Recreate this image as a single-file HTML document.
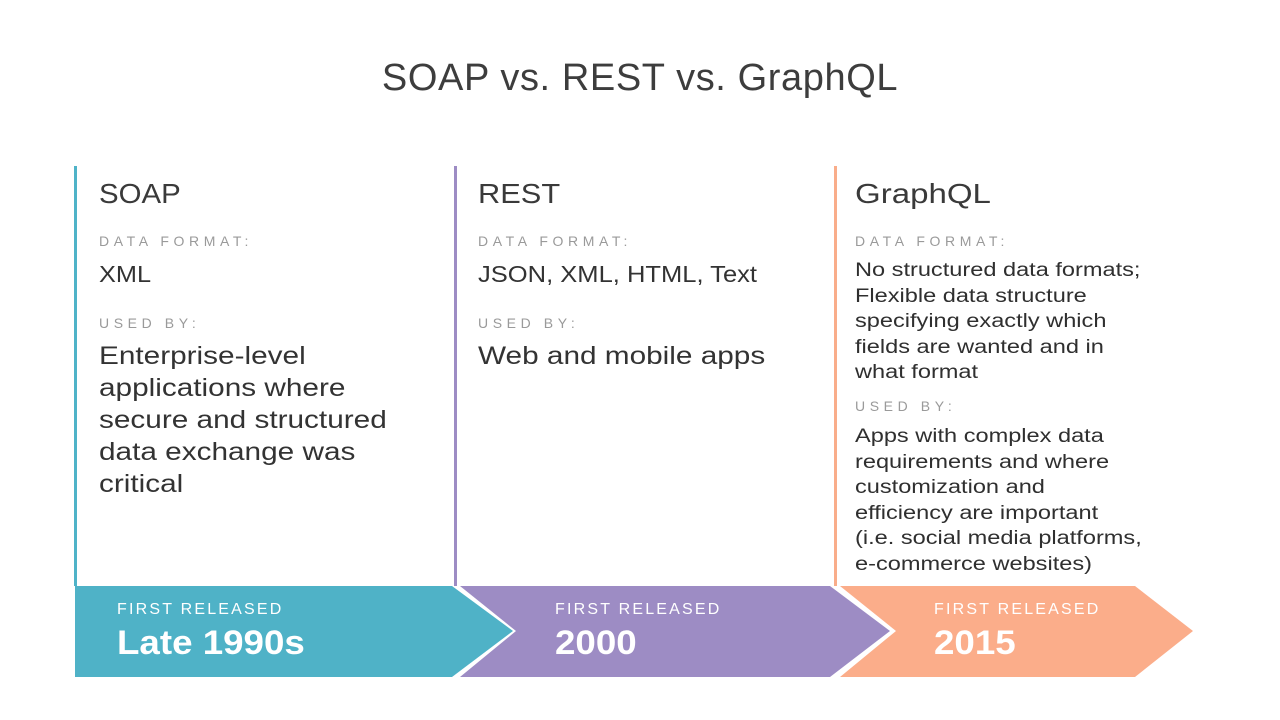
<!DOCTYPE html>
<html><head><meta charset="utf-8"><style>
body{margin:0;width:1280px;height:720px;background:#fff;position:relative;overflow:hidden;font-family:"Liberation Sans",sans-serif;}
.t{position:absolute;white-space:nowrap;transform-origin:0 0;}
.h{font-size:28px;color:#3a3a3a;line-height:34px;}
.lab{font-size:14px;letter-spacing:4.6px;color:#9a9a9a;line-height:18px;}
.big{font-size:23px;color:#333;line-height:32px;}
.sm{font-size:19px;color:#2f2f2f;line-height:25.5px;transform:scaleX(1.24);}
.fr{font-size:16px;letter-spacing:2.2px;color:#fff;line-height:20px;}
.yr{font-size:34px;color:#fff;font-weight:bold;line-height:40px;transform:scaleX(1.08);}
.vl{position:absolute;top:166px;width:3px;height:420px;}
</style></head><body>
<div class="t" style="left:0;width:1280px;text-align:center;top:56px;font-size:38px;color:#3d3d3d;line-height:44px;letter-spacing:0.6px">SOAP vs. REST vs. GraphQL</div>

<div class="vl" style="left:74px;background:#4fb3c8"></div>
<div class="vl" style="left:454px;background:#9d8cc4"></div>
<div class="vl" style="left:834px;background:#f9ad8a"></div>

<svg style="position:absolute;left:0;top:0" width="1280" height="720">
<polygon points="75,586 452,586 513,631 452,677 75,677" fill="#4fb2c7"/>
<polygon points="460,586 830,586 890,631 830,677 460,677 516,631" fill="#9d8cc4"/>
<polygon points="840,586 1135,586 1193,631 1135,677 840,677 896,631" fill="#fbad8a"/>
</svg>

<div class="t h" style="left:99px;top:177px;transform:scaleX(1.05)">SOAP</div>
<div class="t lab" style="left:99px;top:232px">DATA FORMAT:</div>
<div class="t big" style="left:99px;top:258px;transform:scaleX(1.1)">XML</div>
<div class="t lab" style="left:99px;top:314px">USED BY:</div>
<div class="t big" style="left:99px;top:340px;font-size:25px;transform:scaleX(1.19)">Enterprise-level<br>applications where<br>secure and structured<br>data exchange was<br>critical</div>

<div class="t h" style="left:478px;top:177px;transform:scaleX(1.1)">REST</div>
<div class="t lab" style="left:478px;top:232px">DATA FORMAT:</div>
<div class="t big" style="left:478px;top:258px;transform:scaleX(1.11)">JSON, XML, HTML, Text</div>
<div class="t lab" style="left:478px;top:314px">USED BY:</div>
<div class="t big" style="left:478px;top:340px;font-size:25px;transform:scaleX(1.19)">Web and mobile apps</div>

<div class="t h" style="left:855px;top:177px;transform:scaleX(1.18)">GraphQL</div>
<div class="t lab" style="left:855px;top:232px">DATA FORMAT:</div>
<div class="t sm" style="left:855px;top:258px">No structured data formats;<br>Flexible data structure<br>specifying exactly which<br>fields are wanted and in<br>what format</div>
<div class="t lab" style="left:855px;top:397px">USED BY:</div>
<div class="t sm" style="left:855px;top:424px">Apps with complex data<br>requirements and where<br>customization and<br>efficiency are important<br>(i.e. social media platforms,<br>e-commerce websites)</div>

<div class="t fr" style="left:117px;top:600px">FIRST RELEASED</div>
<div class="t yr" style="left:117px;top:623px">Late 1990s</div>
<div class="t fr" style="left:555px;top:600px">FIRST RELEASED</div>
<div class="t yr" style="left:555px;top:623px">2000</div>
<div class="t fr" style="left:934px;top:600px">FIRST RELEASED</div>
<div class="t yr" style="left:934px;top:623px">2015</div>
</body></html>
